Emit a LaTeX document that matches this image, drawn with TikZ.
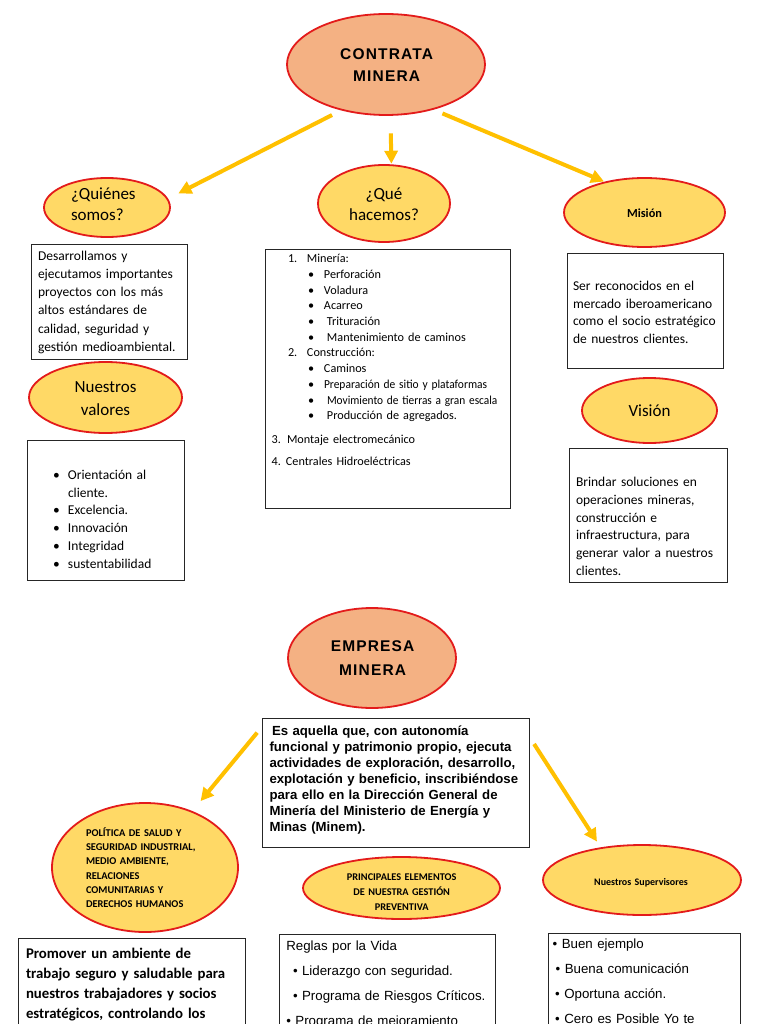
\documentclass[tikz,border=0pt]{standalone}
\usepackage{graphicx}
\usepackage{fontspec}
\setmainfont{Carlito}
\newfontfamily\arialfont{Liberation Sans}
\newfontfamily\arialsp[LetterSpace=7.5]{Liberation Sans}
\newfontfamily\carlnarrow[WordSpace=0.6]{Carlito}
\usetikzlibrary{shapes.geometric,arrows.meta}
\definecolor{ovalfill}{HTML}{FFD966}
\definecolor{headfill}{HTML}{F4B183}
\definecolor{redline}{HTML}{E31B1B}
\definecolor{arrowc}{HTML}{FFC000}
\definecolor{boxline}{HTML}{262626}
\newcommand{\fsz}[2]{\fontsize{#1pt}{#2pt}\selectfont}
\begin{document}
\begin{tikzpicture}[x=1pt,y=-1pt,
  oval/.style={ellipse, draw=redline, line width=1.8pt, fill=ovalfill, inner sep=0pt, outer sep=0pt},
  ovalhead/.style={oval, fill=headfill},
  box/.style={draw=boxline, line width=1pt, inner sep=0pt, outer sep=0pt, fill=white},
  txt/.style={inner sep=0pt, outer sep=0pt, align=left, anchor=base west},
  ctxt/.style={inner sep=0pt, outer sep=0pt, align=center, anchor=base},
  arr/.style={draw=arrowc, line width=4pt, -{Triangle[length=13pt,width=13pt]}}]
\useasboundingbox (0,0) rectangle (768,1024);
\clip (0,0) rectangle (768,1024);
\fill[white] (0,0) rectangle (768,1024);

% ---------- top part ----------
\node[ovalhead, minimum width=198pt, minimum height=101pt] (contrata) at (386,64.5) {};
\node[ctxt, text width=180pt, font={\arialsp\bfseries\fsz{15.5}{22.4}}] (tcontrata) at (386.6,59.3) {CONTRATA\\MINERA};

\node[oval, minimum width=126pt, minimum height=59pt] (quienes) at (107,207.5) {};
\node[txt, text width=100pt, font=\fsz{17}{21.7}] (tquienes) at (71,199.3) {¿Quiénes\\somos?};

\node[oval, minimum width=132pt, minimum height=77pt] (hacemos) at (384,203.5) {};
\node[ctxt, text width=110pt, font=\fsz{17}{21.7}] (thacemos) at (384,199.3) {¿Qué\\hacemos?};

\node[oval, minimum width=161pt, minimum height=69pt] (mision) at (644.5,212.5) {};
\node[ctxt, text width=110pt, font={\bfseries\fsz{12.3}{15}}] (tmision) at (644.5,217.7) {Misión};

% box: quienes somos
\node[box, minimum width=156pt, minimum height=115pt] (bdes) at (109,301.5) {};
\node[txt, text width=160pt, font=\fsz{13.5}{18.3}] (tdes) at (38,260) {Desarrollamos y\\ejecutamos importantes\\proyectos con los más\\altos estándares de\\calidad, seguridad y\\gestión medioambiental.};

% nuestros valores
\node[oval, minimum width=153pt, minimum height=71pt] (valores) at (105.5,397.5) {};
\node[ctxt, text width=120pt, font=\fsz{17}{22.7}] (tvalores) at (105.5,392.3) {Nuestros\\valores};
\node[box, minimum width=157pt, minimum height=140pt] (bval) at (105.5,510.85) {};
\node[txt, text width=150pt, font=\fsz{13.5}{17.8}] (tval) at (53,479.3) {\makebox[15pt][l]{•}Orientación al\\\hspace*{15pt}cliente.\\\makebox[15pt][l]{•}Excelencia.\\\makebox[15pt][l]{•}Innovación\\\makebox[15pt][l]{•}Integridad\\\makebox[15pt][l]{•}sustentabilidad};

% que hacemos box
\node[box, minimum width=245pt, minimum height=259pt] (bhac) at (387.5,378.5) {};
\node[txt, text width=280pt, font={\carlnarrow\fsz{12.2}{15.7}}] (thac) at (271.7,262.7) {%
\hspace*{16.3pt}\makebox[19pt][l]{1.}Minería:\\
\hspace*{36.3pt}\makebox[16pt][l]{•}Perforación\\
\hspace*{36.3pt}\makebox[16pt][l]{•}Voladura\\
\hspace*{36.3pt}\makebox[16pt][l]{•}Acarreo\\
\hspace*{36.3pt}\makebox[19pt][l]{•}Trituración\\
\hspace*{36.3pt}\makebox[19pt][l]{•}Mantenimiento de caminos\\
\hspace*{16.3pt}\makebox[19pt][l]{2.}Construcción:\\
\hspace*{36.3pt}\makebox[16pt][l]{•}Caminos\\
\hspace*{36.3pt}\makebox[16pt][l]{•}\scalebox{0.94}[1]{Preparación de sitio y plataformas}\\
\hspace*{36.3pt}\makebox[19pt][l]{•}\scalebox{0.93}[1]{Movimiento de tierras a gran escala}\\
\hspace*{36.3pt}\makebox[19pt][l]{•}Producción de agregados.\\[8pt]
3. Montaje electromecánico\\[6.7pt]
\makebox[14.3pt][l]{4.}Centrales Hidroeléctricas};

% mision box
\node[box, minimum width=156pt, minimum height=115pt] (bmis) at (645,310.5) {};
\node[txt, text width=160pt, font=\fsz{13.5}{17.6}] (tmis) at (573,290.7) {Ser reconocidos en el\\mercado iberoamericano\\como el socio estratégico\\de nuestros clientes.};

% vision
\node[oval, minimum width=135pt, minimum height=65pt] (vision) at (649.5,410.5) {};
\node[ctxt, text width=110pt, font=\fsz{17}{21}] (tvision) at (649.5,416) {Visión};
\node[box, minimum width=158pt, minimum height=134pt] (bvis) at (648,515) {};
\node[txt, text width=160pt, font=\fsz{13.5}{17.7}] (tvis) at (576,486.7) {Brindar soluciones en\\operaciones mineras,\\construcción e\\infraestructura, para\\generar valor a nuestros\\clientes.};

\draw[arr, shorten <=11.5pt, shorten >=12.4pt] (contrata.226) -- (quienes.8.1);
\draw[arr, shorten <=18.4pt, shorten >=1.5pt] (contrata.275.7) -- (hacemos.79.6);
\draw[arr, shorten <=11.1pt, shorten >=1.9pt] (contrata.316.7) -- (mision.142.7);

% ---------- bottom part ----------
\node[ovalhead, minimum width=168pt, minimum height=100pt] (empresa) at (372,658) {};
\node[ctxt, text width=150pt, font={\arialsp\bfseries\fsz{15.5}{24}}] (tempresa) at (372.6,651.5) {EMPRESA\\MINERA};

\node[box, minimum width=266.6pt, minimum height=129pt] (baq) at (396,782.5) {};
\node[txt, text width=270pt, font={\arialfont\bfseries\fsz{13.2}{16.1}}] (taq) at (269.5,735) {\hspace*{2.5pt}Es aquella que, con autonomía\\funcional y patrimonio propio, ejecuta\\actividades de exploración, desarrollo,\\explotación y beneficio, inscribiéndose\\para ello en la Dirección General de\\Minería del Ministerio de Energía y\\Minas (Minem).};

\node[oval, minimum width=186pt, minimum height=129pt] (politica) at (145,867.5) {};
\node[txt, text width=150pt, font={\bfseries\fsz{10.4}{14.2}}] (tpolitica) at (86,836.5) {POLÍTICA DE SALUD Y\\SEGURIDAD INDUSTRIAL,\\MEDIO AMBIENTE,\\RELACIONES\\COMUNITARIAS Y\\DERECHOS HUMANOS};

\node[oval, minimum width=197pt, minimum height=62pt] (principales) at (401.5,888) {};
\node[ctxt, text width=170pt, font={\bfseries\fsz{10.3}{15}}] (tprincipales) at (401.7,880.5) {PRINCIPALES ELEMENTOS\\DE NUESTRA GESTIÓN\\PREVENTIVA};

\node[oval, minimum width=198pt, minimum height=70pt] (super) at (642,880) {};
\node[ctxt, text width=170pt, font={\bfseries\fsz{10}{12}}] (tsuper) at (641,885.5) {Nuestros Supervisores};

\node[box, minimum width=227.7pt, minimum height=102pt] (bpro) at (131.85,989) {};
\node[txt, text width=240pt, font={\bfseries\fsz{14.8}{20}}] (tpro) at (26,958) {Promover un ambiente de\\trabajo seguro y saludable para\\nuestros trabajadores y socios\\estratégicos, controlando los};

\node[box, minimum width=216pt, minimum height=105.7pt] (breg) at (387.7,987.15) {};
\node[txt, text width=220pt, font={\arialfont\fsz{13.3}{25}}] (treg) at (286.3,950) {Reglas por la Vida\\\hspace*{6.7pt}• Liderazgo con seguridad.\\\hspace*{6.7pt}• Programa de Riesgos Críticos.\\• Programa de mejoramiento};

\node[box, minimum width=192pt, minimum height=107pt] (bbuen) at (644,986.5) {};
\node[txt, text width=190pt, font={\arialfont\fsz{13.3}{25}}] (tbuen) at (552.7,948.5) {• Buen ejemplo\\\hspace*{3pt}• Buena comunicación\\\hspace*{2.5pt}• Oportuna acción.\\\hspace*{2.5pt}• Cero es Posible Yo te};

\draw[arr, shorten <=8.7pt, shorten >=13.8pt] (baq.157.9) -- (politica.50.6);
\draw[arr, shorten <=8.8pt, shorten >=7.8pt] (baq.19.3) -- (super.142.8);
\end{tikzpicture}
\end{document}
